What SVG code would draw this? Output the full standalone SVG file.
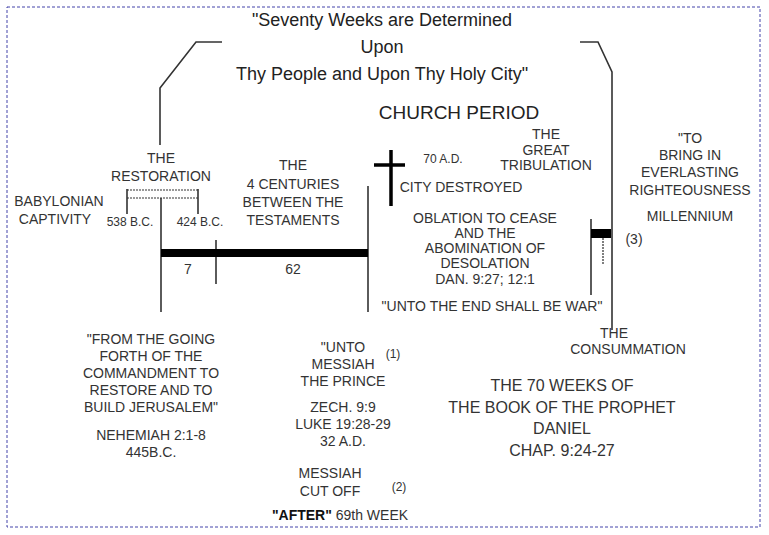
<svg xmlns="http://www.w3.org/2000/svg" width="769" height="535" viewBox="0 0 769 535">
<style>
text{font-family:"Liberation Sans",Arial,sans-serif;fill:#333;font-size:14px;text-anchor:middle}
.t{font-size:18px;fill:#222}
.s{font-size:12px}
.ln{stroke:#333;stroke-width:1.6;fill:none}
</style>
<rect width="769" height="535" fill="#fff"/>
<rect x="7" y="7" width="753" height="520" fill="none" stroke="#4444aa" stroke-width="1" stroke-dasharray="3,2"/>
<g id="title">
<text class="t" x="382" y="26">"Seventy Weeks are Determined</text>
<text class="t" x="382" y="53">Upon</text>
<text class="t" x="382" y="80">Thy People and Upon Thy Holy City"</text>
<text x="459" y="119" style="font-size:19px;fill:#222">CHURCH PERIOD</text>
</g>
<g id="connectors">
<polyline class="ln" points="160,145 160,88 196,42 222,42"/>
<polyline class="ln" points="580,42 598,42 612,72 612,330"/>
<line class="ln" x1="161" y1="198" x2="161" y2="312"/>
<line class="ln" x1="368" y1="186" x2="368" y2="312"/>
<line class="ln" x1="216" y1="240" x2="216" y2="284"/>
<rect x="161" y="249" width="207" height="8" fill="#000"/>
<line class="ln" x1="127" y1="189" x2="127" y2="214"/>
<line class="ln" x1="198" y1="189" x2="198" y2="214"/>
<line x1="127" y1="190" x2="198" y2="190" stroke="#333" stroke-width="1.2" stroke-dasharray="2,1"/>
<line x1="127" y1="198" x2="198" y2="198" stroke="#333" stroke-width="1.2" stroke-dasharray="2,1"/>
<line x1="391" y1="150" x2="391" y2="206" stroke="#000" stroke-width="3.5"/>
<line x1="374" y1="165" x2="405" y2="165" stroke="#000" stroke-width="3.5"/>
<line class="ln" x1="591" y1="219" x2="591" y2="295"/>
<rect x="591" y="229" width="20" height="9" fill="#000"/>
<line x1="603" y1="238" x2="603" y2="265" stroke="#555" stroke-width="1.5" stroke-dasharray="2,1"/>
</g>
<g id="restoration"><text x="161" y="163">THE</text><text x="161" y="181">RESTORATION</text></g>
<g id="babylon"><text x="59" y="206">BABYLONIAN</text><text x="55" y="224">CAPTIVITY</text><text class="s" x="130" y="226">538 B.C.</text><text class="s" x="200" y="226">424 B.C.</text></g>
<g id="centuries"><text x="293" y="170">THE</text><text x="293" y="189">4 CENTURIES</text><text x="293" y="207">BETWEEN THE</text><text x="293" y="225">TESTAMENTS</text></g>
<g id="labels7"><text x="188" y="274">7</text><text x="293" y="274">62</text></g>
<g id="city"><text class="s" x="443" y="163">70 A.D.</text><text x="461" y="192">CITY DESTROYED</text></g>
<g id="trib"><text x="546" y="139">THE</text><text x="546" y="155">GREAT</text><text x="546" y="170">TRIBULATION</text></g>
<g id="oblation"><text x="485" y="223">OBLATION TO CEASE</text><text x="485" y="238">AND THE</text><text x="485" y="253">ABOMINATION OF</text><text x="485" y="268">DESOLATION</text><text x="485" y="284">DAN. 9:27; 12:1</text></g>
<g id="war"><text x="492" y="311">"UNTO THE END SHALL BE WAR"</text></g>
<g id="everlasting"><text x="690" y="143">"TO</text><text x="690" y="160">BRING IN</text><text x="690" y="177">EVERLASTING</text><text x="690" y="195">RIGHTEOUSNESS</text><text x="690" y="221">MILLENNIUM</text><text x="634" y="244">(3)</text></g>
<g id="consummation"><text x="614" y="338">THE</text><text x="628" y="354">CONSUMMATION</text></g>
<g id="decree"><text x="151" y="344">"FROM THE GOING</text><text x="151" y="361">FORTH OF THE</text><text x="151" y="378">COMMANDMENT TO</text><text x="151" y="395">RESTORE AND TO</text><text x="151" y="412">BUILD JERUSALEM"</text><text x="151" y="440">NEHEMIAH 2:1-8</text><text x="151" y="457">445B.C.</text></g>
<g id="messiah"><text x="343" y="352">"UNTO</text><text x="343" y="369">MESSIAH</text><text x="343" y="386">THE PRINCE</text><text class="s" x="393" y="358">(1)</text><text x="343" y="412">ZECH. 9:9</text><text x="343" y="429">LUKE 19:28-29</text><text x="343" y="446">32 A.D.</text></g>
<g id="cutoff"><text x="330" y="478">MESSIAH</text><text x="330" y="496">CUT OFF</text><text class="s" x="399" y="491">(2)</text><text x="340" y="520"><tspan style="font-weight:bold;fill:#111">"AFTER"</tspan> 69th WEEK</text></g>
<g id="book"><text style="font-size:16px" x="562" y="391">THE 70 WEEKS OF</text><text style="font-size:16px" x="562" y="413">THE BOOK OF THE PROPHET</text><text style="font-size:16px" x="562" y="434">DANIEL</text><text style="font-size:16px" x="562" y="456">CHAP. 9:24-27</text></g>
</svg>
